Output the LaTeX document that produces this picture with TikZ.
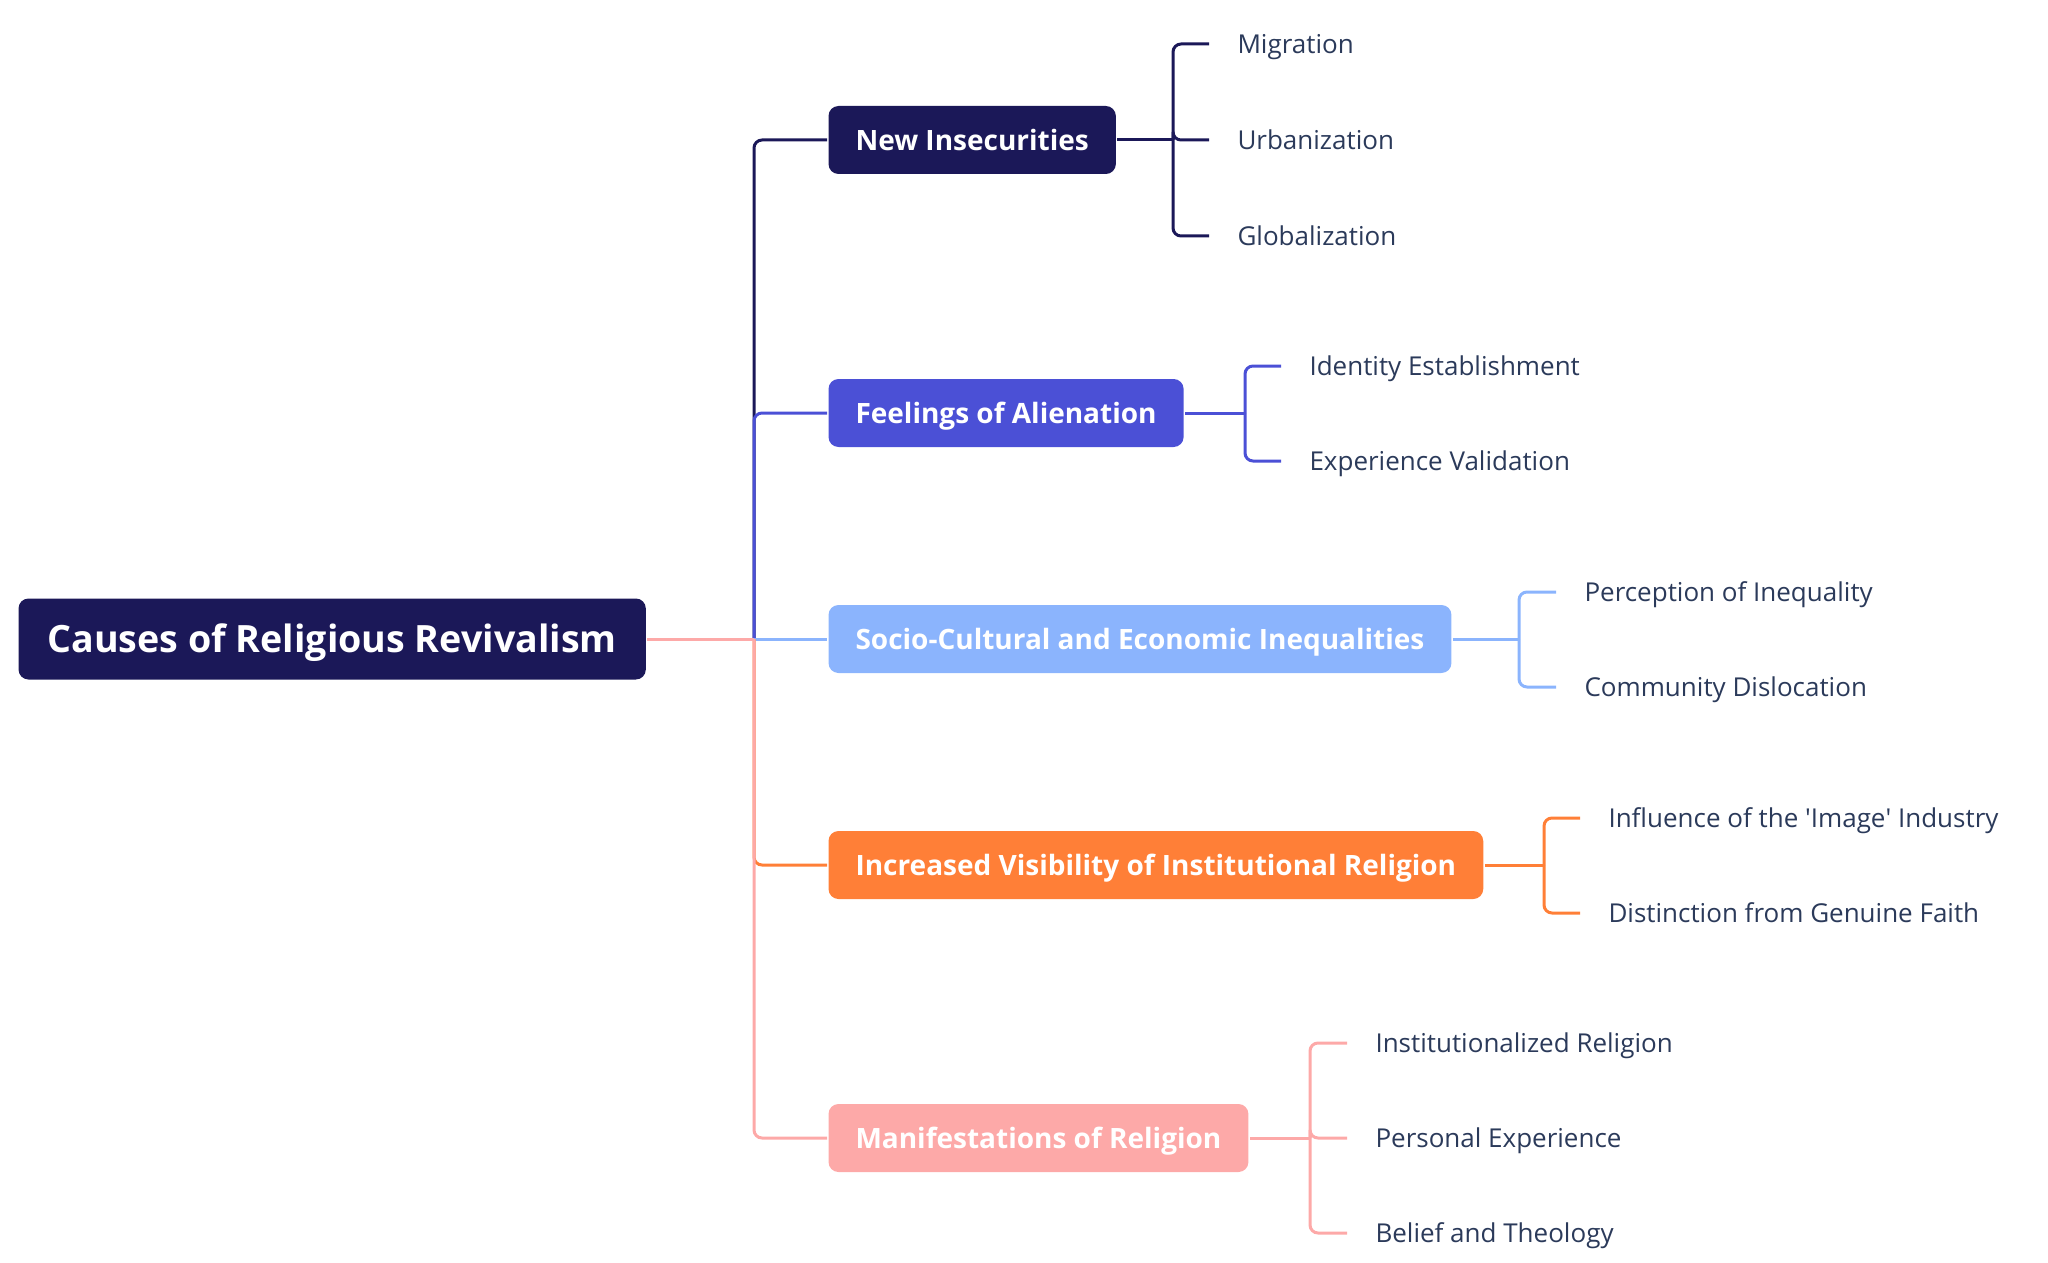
\documentclass[tikz,border=0pt]{standalone}
\usepackage{fontspec}
\setmainfont{Open Sans}
\definecolor{navy}{RGB}{27,24,88}
\definecolor{iris}{RGB}{75,80,214}
\definecolor{sky}{RGB}{139,180,253}
\definecolor{tangerine}{RGB}{255,127,55}
\definecolor{blush}{RGB}{253,169,168}
\definecolor{leaftext}{RGB}{43,58,90}

\begin{document}
\begin{tikzpicture}[x=0.5pt, y=-0.5pt, line width=1.5pt, rounded corners=4pt]
  \tikzstyle{topic}=[rounded corners=5pt, text=white, font=\fontsize{14}{16}\selectfont\bfseries, text height=13.4pt, text depth=3pt, minimum height=34pt, inner xsep=13.5pt, anchor=west]
  \tikzstyle{leaf}=[text=leaftext, font=\fontsize{13}{15}\selectfont, text height=12pt, text depth=2.7pt, inner xsep=13.5pt, anchor=west]
  \useasboundingbox (0,0) rectangle (2048,1262);
  \node[topic, fill=navy, minimum height=40.5pt, inner xsep=14.5pt, text height=16.4pt, font=\fontsize{18.8}{22}\selectfont\bfseries] (root) at (17,639) {Causes of Religious Revivalism};
  \coordinate (trunk) at (754,639);
  \node[topic, fill=navy] (ins) at (827,140) {New Insecurities};
  \node[topic, fill=iris] (ali) at (827,413) {Feelings of Alienation};
  \node[topic, fill=sky] (ineq) at (827,639) {Socio-Cultural and Economic Inequalities};
  \node[topic, fill=tangerine] (vis) at (827,865) {Increased Visibility of Institutional Religion};
  \node[topic, fill=blush] (mani) at (827,1138) {Manifestations of Religion};
  % leaves
  \node[leaf] (mig) at (1209,44) {Migration};
  \node[leaf] (urb) at (1209,140) {Urbanization};
  \node[leaf] (glob) at (1209,236) {Globalization};
  \node[leaf] (iden) at (1281,366) {Identity Establishment};
  \node[leaf] (expv) at (1281,461) {Experience Validation};
  \node[leaf] (perc) at (1556,592) {Perception of Inequality};
  \node[leaf] (disl) at (1556,687) {Community Dislocation};
  \node[leaf] (imag) at (1580,818) {Influence of the \textquotesingle Image\textquotesingle{} Industry};
  \node[leaf] (genu) at (1580,913) {Distinction from Genuine Faith};
  \node[leaf] (inst) at (1347,1043) {Institutionalized Religion};
  \node[leaf] (pers) at (1347,1138) {Personal Experience};
  \node[leaf] (beli) at (1347,1233) {Belief and Theology};
  \coordinate (insj) at (1173,140);
  \coordinate (alij) at (1245,413);
  \coordinate (ineqj) at (1519,639);
  \coordinate (visj) at (1544,865);
  \coordinate (manij) at (1310,1138);
  % trunk
  \draw[navy] (trunk) |- (ins.west);
  \draw[iris] (trunk) |- (ali.west);
  \draw[sky] (trunk) -- (ineq.west);
  \draw[tangerine] (trunk) |- (vis.west);
  \draw[blush] (trunk) |- (mani.west);
  \draw[blush] (root.east) -- (trunk);
  % brackets
  \draw[navy] (ins.east) -- (insj);
  \foreach \l in {mig,urb,glob}{
    \draw[navy] (insj) |- (\l.west);
  }
  \draw[iris] (ali.east) -- (alij);
  \foreach \l in {iden,expv}{
    \draw[iris] (alij) |- (\l.west);
  }
  \draw[sky] (ineq.east) -- (ineqj);
  \foreach \l in {perc,disl}{
    \draw[sky] (ineqj) |- (\l.west);
  }
  \draw[tangerine] (vis.east) -- (visj);
  \foreach \l in {imag,genu}{
    \draw[tangerine] (visj) |- (\l.west);
  }
  \draw[blush] (mani.east) -- (manij);
  \foreach \l in {inst,pers,beli}{
    \draw[blush] (manij) |- (\l.west);
  }
\end{tikzpicture}
\end{document}
